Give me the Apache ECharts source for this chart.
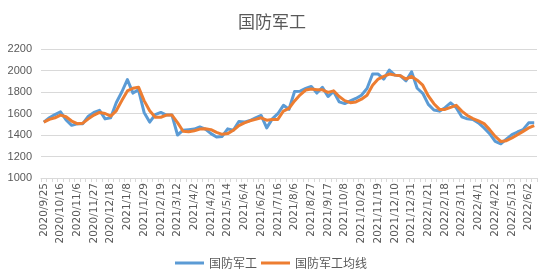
<!DOCTYPE html>
<html>
<head>
<meta charset="utf-8">
<script src="https://cdn.jsdelivr.net/npm/echarts@6/dist/echarts.min.js"></script>
<style>
    html, body { margin: 0; padding: 0; background: #fff; }
    #chartContainer { width: 542px; height: 279px; }
</style>
</head>
<body>
<div id="chartContainer"></div>
<script>
'use strict';
// weekly dates (holiday weeks are missing in the source)
const dates = [
    '2020/9/25', '2020/9/30', '2020/10/9', '2020/10/16', '2020/10/23', '2020/10/30',
    '2020/11/6', '2020/11/13', '2020/11/20', '2020/11/27', '2020/12/4', '2020/12/11',
    '2020/12/18', '2020/12/25', '2020/12/31', '2021/1/8', '2021/1/15', '2021/1/22',
    '2021/1/29', '2021/2/5', '2021/2/10', '2021/2/19', '2021/2/26', '2021/3/5',
    '2021/3/12', '2021/3/19', '2021/3/26', '2021/4/2', '2021/4/9', '2021/4/16',
    '2021/4/23', '2021/4/30', '2021/5/7', '2021/5/14', '2021/5/21', '2021/5/28',
    '2021/6/4', '2021/6/11', '2021/6/18', '2021/6/25', '2021/7/2', '2021/7/9',
    '2021/7/16', '2021/7/23', '2021/7/30', '2021/8/6', '2021/8/13', '2021/8/20',
    '2021/8/27', '2021/9/3', '2021/9/10', '2021/9/17', '2021/9/24', '2021/9/30',
    '2021/10/8', '2021/10/15', '2021/10/22', '2021/10/29', '2021/11/5', '2021/11/12',
    '2021/11/19', '2021/11/26', '2021/12/3', '2021/12/10', '2021/12/17', '2021/12/24',
    '2021/12/31', '2022/1/7', '2022/1/14', '2022/1/21', '2022/1/28', '2022/2/11',
    '2022/2/18', '2022/2/25', '2022/3/4', '2022/3/11', '2022/3/18', '2022/3/25',
    '2022/4/1', '2022/4/8', '2022/4/15', '2022/4/22', '2022/4/29', '2022/5/6',
    '2022/5/13', '2022/5/20', '2022/5/27', '2022/6/2', '2022/6/10'
];

const indexValues = [
    1520, 1560, 1590, 1615, 1540, 1490, 1505, 1505, 1575, 1610,
    1630, 1550, 1560, 1700, 1800, 1915, 1790, 1820, 1610, 1520,
    1590, 1610, 1585, 1585, 1400, 1445, 1450, 1455, 1475, 1455,
    1413, 1381, 1387, 1457, 1444, 1526, 1520, 1535, 1560, 1582,
    1466, 1550, 1598, 1676, 1639, 1805, 1808, 1833, 1852, 1790,
    1843, 1758, 1805, 1708, 1692, 1717, 1740, 1770, 1833, 1967,
    1967, 1920, 2004, 1957, 1951, 1904, 1988, 1835, 1788, 1685,
    1632, 1622, 1654, 1700, 1654, 1569, 1550, 1544, 1513, 1466,
    1413, 1340, 1318, 1362, 1403, 1428, 1450, 1513, 1513
];

const maValues = [
    1520, 1545, 1560, 1585, 1570, 1530, 1505, 1510, 1550, 1585,
    1610, 1600, 1575, 1625, 1720, 1810, 1835, 1845, 1720, 1625,
    1565, 1565, 1585, 1585, 1515, 1435, 1430, 1440, 1455, 1458,
    1450, 1425, 1406, 1413, 1444, 1488, 1513, 1532, 1545, 1560,
    1538, 1545, 1545, 1623, 1648, 1717, 1774, 1818, 1827, 1820,
    1820, 1796, 1811, 1758, 1720, 1701, 1708, 1733, 1770, 1862,
    1920, 1945, 1967, 1957, 1951, 1920, 1945, 1910, 1863, 1763,
    1691, 1638, 1638, 1657, 1676, 1622, 1582, 1553, 1531, 1506,
    1450, 1387, 1340, 1347, 1372, 1403, 1434, 1466, 1488
];

const yTicks = { min: 1000, max: 2200, step: 200 };

let initChart = (function() {
    let chartContainer = document.getElementById('chartContainer');
    let demoChart = echarts.init(chartContainer);
    const textColor = '#595959';

    let option = {
        backgroundColor: '#fff',
        animation: false,
        title: {
            text: '国防军工',
            left: 267,
            textAlign: 'center',
            top: 8,
            textStyle: {
                fontWeight: 'normal',
                fontFamily: 'Noto Sans CJK SC',
                fontSize: 17,
                color: textColor
            }
        },
        legend: {
            data: ['国防军工', '国防军工均线'],
            bottom: 5,
            left: 'center',
            icon: 'rect',
            itemWidth: 29,
            itemHeight: 3,
            itemGap: 4,
            textStyle: {
                fontFamily: 'Noto Sans CJK SC',
                fontSize: 12,
                color: textColor
            }
        },
        grid: {
            top: 49,
            left: 41,
            right: 5,
            bottom: 101
        },
        xAxis: {
            type: 'category',
            data: dates,
            boundaryGap: true,
            axisLine: {
                lineStyle: { color: '#D9D9D9', width: 1 }
            },
            axisTick: {
                show: true,
                interval: 0,
                length: 4,
                lineStyle: { color: '#D9D9D9' }
            },
            axisLabel: {
                interval: 2,
                rotate: 90,
                margin: 5,
                fontFamily: 'DejaVu Sans',
                fontSize: 10.5,
                color: textColor
            }
        },
        yAxis: {
            type: 'value',
            min: yTicks.min,
            max: yTicks.max,
            interval: yTicks.step,
            axisLine: { show: false },
            axisTick: { show: false },
            axisLabel: {
                margin: 9,
                fontFamily: 'Liberation Sans',
                fontSize: 11,
                color: textColor,
                formatter: function(v) { return String(v); }
            },
            splitLine: {
                lineStyle: { color: '#D9D9D9', width: 1 }
            }
        },
        series: [{
            name: '国防军工',
            type: 'line',
            data: indexValues,
            symbol: 'none',
            lineStyle: { color: '#5B9BD5', width: 3, join: 'round' },
            itemStyle: { color: '#5B9BD5' }
        }, {
            name: '国防军工均线',
            type: 'line',
            data: maValues,
            symbol: 'none',
            lineStyle: { color: '#ED7D31', width: 3, join: 'round' },
            itemStyle: { color: '#ED7D31' }
        }]
    };

    demoChart.setOption(option);
})();
</script>
</body>
</html>
